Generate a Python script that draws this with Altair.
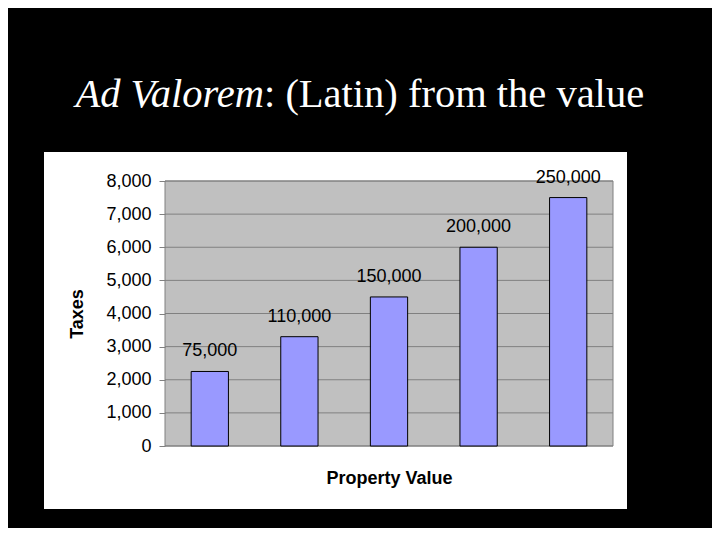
import altair as alt
import pandas as pd

# ---- data ----
property_values = ["75,000", "110,000", "150,000", "200,000", "250,000"]
taxes = [2250, 3300, 4500, 6000, 7500]
y_ticks = [0, 1000, 2000, 3000, 4000, 5000, 6000, 7000, 8000]
title_italic = "Ad Valorem"
title_rest = ": (Latin) from the value"
x_title = "Property Value"
y_title = "Taxes"

bars_df = pd.DataFrame({"pv": property_values, "tax": taxes})
grid_df = pd.DataFrame({"tax": y_ticks})
one = pd.DataFrame({"k": [0]})

W, H = 448, 265
SANS = "Liberation Sans"
SERIF = "Liberation Serif"
FS = 18

y_scale = alt.Scale(domain=[0, 8000], nice=False, zero=True)
x_scale = alt.Scale(paddingInner=0.584, paddingOuter=0.292)

y_axis = alt.Axis(
    values=y_ticks, format=",.0f", domain=False, grid=False, zindex=1,
    tickSize=6, tickColor="#808080", labelPadding=8,
    labelFont=SANS, labelFontSize=FS, labelColor="black",
    title=y_title, titleFont=SANS, titleFontSize=FS, titleFontWeight="bold",
    titleColor="black", titleAngle=270, titleX=-83, titleY=H / 2,
    titleBaseline="alphabetic", titleAlign="center",
)
x_axis = alt.Axis(
    labels=False, ticks=False, domain=False, grid=False, zindex=1,
    title=x_title, titleFont=SANS, titleFontSize=FS, titleFontWeight="bold",
    titleColor="black", titleX=W / 2, titleY=37, titleBaseline="alphabetic",
    titleAlign="center",
)

y_enc = alt.Y("tax:Q", scale=y_scale, axis=y_axis)
x_enc = alt.X("pv:N", sort=property_values, scale=x_scale, axis=x_axis)

panel = alt.Chart(one).mark_rect(color="white").encode(
    x=alt.value(-121), x2=alt.value(462), y=alt.value(-29), y2=alt.value(328)
)

plot_bg = alt.Chart(one).mark_rect(fill="#C0C0C0", stroke="#808080", strokeWidth=1).encode(
    x=alt.value(0), x2=alt.value(W), y=alt.value(0), y2=alt.value(H)
)

grid = alt.Chart(grid_df).mark_rule(color="#808080", strokeWidth=1).encode(y=y_enc)

bars = alt.Chart(bars_df).mark_bar(
    color="#9999FF", stroke="black", strokeWidth=1
).encode(x=x_enc, y=y_enc)

labels = alt.Chart(bars_df).mark_text(
    font=SANS, fontSize=FS, color="black", baseline="alphabetic", dy=-15
).encode(x=x_enc, y=y_enc, text="pv:N")

t1 = alt.Chart(one).mark_text(
    text=title_italic, font=SERIF, fontStyle="italic", fontSize=40.5,
    color="white", align="right", baseline="alphabetic",
).encode(x=alt.value(99), y=alt.value(-74))

t2 = alt.Chart(one).mark_text(
    text=title_rest, font=SERIF, fontSize=40.5,
    color="white", align="left", baseline="alphabetic",
).encode(x=alt.value(99), y=alt.value(-74))

chart = alt.layer(panel, plot_bg, grid, bars, labels, t1, t2).properties(
    width=W,
    height=H,
    background="black",
    padding={"left": 157, "top": 173, "right": 99, "bottom": 82},
    autosize=alt.AutoSizeParams(type="none"),
).configure_view(stroke=None)

chart.save("out.html", embed_options={"renderer": "svg", "actions": False})
